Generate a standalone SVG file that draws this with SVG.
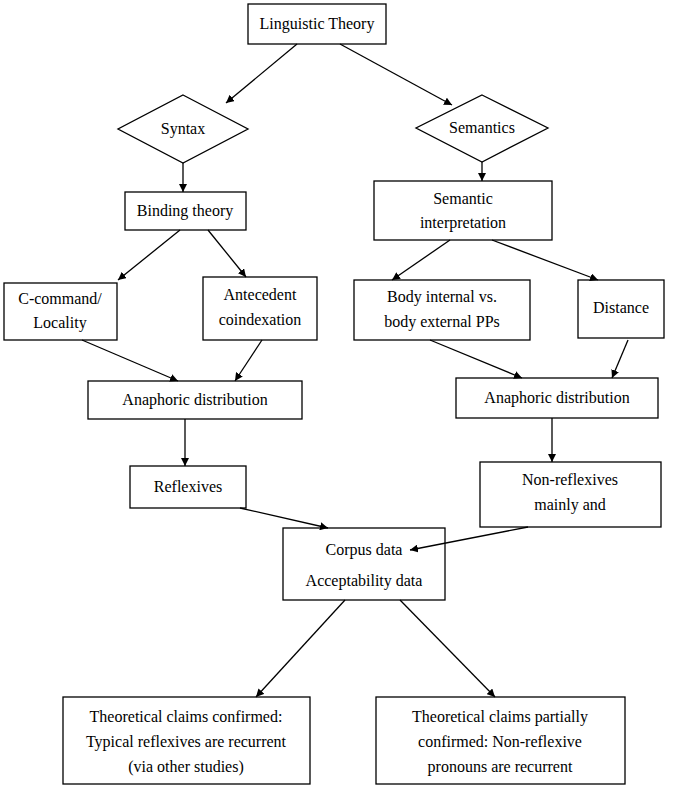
<svg xmlns="http://www.w3.org/2000/svg" width="685" height="790" viewBox="0 0 685 790" font-family="Liberation Serif, Times New Roman, DejaVu Serif, serif">
<style>
.b{fill:#fff;stroke:#000;stroke-width:1.3}
text{font-family:'Liberation Serif','Times New Roman','DejaVu Serif',serif;font-size:16px;text-anchor:middle;fill:#000}
.c line{stroke:#000;stroke-width:1.3;marker-end:url(#a)}
</style>
<defs><marker id="a" viewBox="0 0 10 10" refX="10" refY="5" markerWidth="8" markerHeight="8" orient="auto" markerUnits="userSpaceOnUse"><path d="M0,0L10,5L0,10z"/></marker></defs>
<rect width="685" height="790" fill="#fff"/>
<g id="lt"><rect class="b" x="248" y="4" width="138" height="40"/><text x="317" y="29">Linguistic Theory</text></g>
<g id="syntax"><polygon class="b" points="183,95 248,129 183,163 118,129"/><text x="183" y="134">Syntax</text></g>
<g id="semantics"><polygon class="b" points="482,95 548,128 482,162 416,128"/><text x="482" y="133">Semantics</text></g>
<g id="binding"><rect class="b" x="125" y="192" width="121" height="38"/><text x="185" y="216">Binding theory</text></g>
<g id="semint"><rect class="b" x="374" y="181" width="178" height="59"/><text x="463" y="204">Semantic</text><text x="463" y="228">interpretation</text></g>
<g id="ccom"><rect class="b" x="4" y="283" width="113" height="57"/><text x="60" y="304">C-command/</text><text x="60" y="328">Locality</text></g>
<g id="ante"><rect class="b" x="203" y="277" width="114" height="63"/><text x="260" y="300">Antecedent</text><text x="260" y="325">coindexation</text></g>
<g id="body"><rect class="b" x="354" y="280" width="176" height="60"/><text x="442" y="302">Body internal vs.</text><text x="442" y="327">body external PPs</text></g>
<g id="dist"><rect class="b" x="578" y="280" width="86" height="58"/><text x="621" y="313">Distance</text></g>
<g id="anaL"><rect class="b" x="88" y="381" width="214" height="38"/><text x="195" y="405">Anaphoric distribution</text></g>
<g id="anaR"><rect class="b" x="456" y="378" width="202" height="40"/><text x="557" y="403">Anaphoric distribution</text></g>
<g id="refl"><rect class="b" x="130" y="466" width="116" height="42"/><text x="188" y="492">Reflexives</text></g>
<g id="nonrefl"><rect class="b" x="480" y="462" width="181" height="65"/><text x="570" y="485">Non-reflexives</text><text x="570" y="510">mainly and</text></g>
<g id="corpus"><rect class="b" x="283" y="528" width="162" height="72"/><text x="364" y="555">Corpus data</text><text x="364" y="586">Acceptability data</text></g>
<g id="conf"><rect class="b" x="63" y="697" width="247" height="87"/><text x="186" y="722">Theoretical claims confirmed:</text><text x="186" y="747">Typical reflexives are recurrent</text><text x="186" y="772">(via other studies)</text></g>
<g id="part"><rect class="b" x="376" y="697" width="249" height="87"/><text x="500" y="722">Theoretical claims partially</text><text x="500" y="747">confirmed: Non-reflexive</text><text x="500" y="772">pronouns are recurrent</text></g>
<g class="c">
<line x1="297" y1="44" x2="226" y2="103"/>
<line x1="340" y1="44" x2="452" y2="105"/>
<line x1="183" y1="163" x2="183" y2="192"/>
<line x1="482" y1="162" x2="482" y2="181"/>
<line x1="180" y1="230" x2="118" y2="280"/>
<line x1="208" y1="230" x2="246" y2="277"/>
<line x1="450" y1="240" x2="392" y2="280"/>
<line x1="492" y1="240" x2="598" y2="280"/>
<line x1="82" y1="340" x2="178" y2="381"/>
<line x1="262" y1="340" x2="235" y2="381"/>
<line x1="430" y1="340" x2="522" y2="378"/>
<line x1="628" y1="340" x2="612" y2="378"/>
<line x1="185" y1="419" x2="185" y2="466"/>
<line x1="552" y1="418" x2="552" y2="462"/>
<line x1="240" y1="508" x2="328" y2="528"/>
<line x1="528" y1="527" x2="410" y2="550"/>
<line x1="345" y1="600" x2="256" y2="697"/>
<line x1="400" y1="600" x2="495" y2="697"/>
</g>
</svg>
